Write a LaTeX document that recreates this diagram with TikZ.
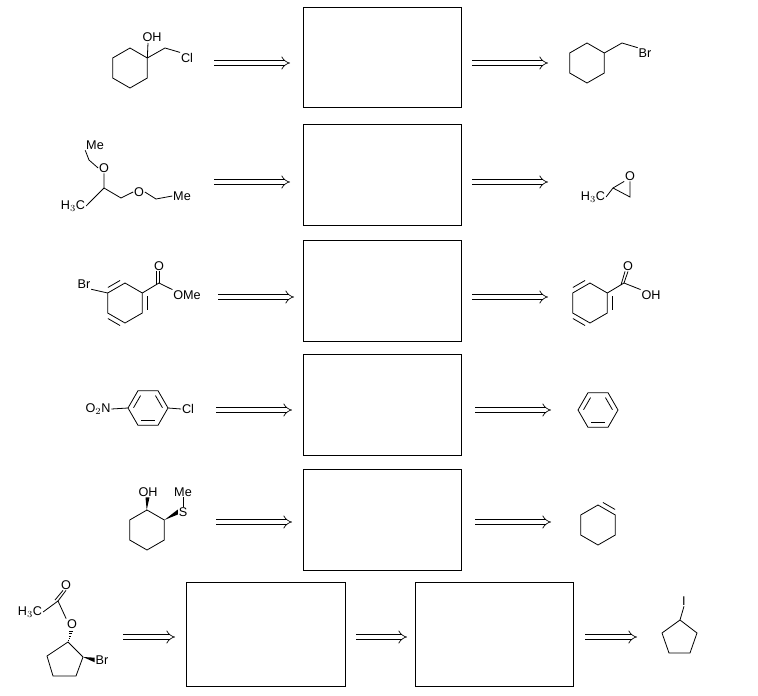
\documentclass[tikz,border=0pt]{standalone}
\usepackage{fontspec}
\setmainfont{Liberation Sans}
\usetikzlibrary{arrows.meta}
\tikzset{
 bd/.style={line width=0.6pt},
 box/.style={draw,line width=0.8pt},
 retro/.style={double,double distance=3pt,line width=0.5pt,-{Implies},shorten >=0pt},
 lab/.style={inner sep=0.5pt,font=\fontsize{9.5}{10}\selectfont},
 wedge/.style={fill=black},
}
\newcommand{\hexp}[3]{% pointy top ring: center x,y, name prefix
 \foreach \k/\a in {1/90,2/30,3/-30,4/-90,5/-150,6/150}{\coordinate (#3\k) at ($(#1,#2)+(\a:20 and -20)$);}
 \draw[bd] (#31)--(#32)--(#33)--(#34)--(#35)--(#36)--cycle;}
\newcommand{\hexf}[3]{% flat top ring
 \foreach \k/\a in {1/0,2/60,3/120,4/180,5/240,6/300}{\coordinate (#3\k) at ($(#1,#2)+(\a:20 and -20)$);}
 \draw[bd] (#31)--(#32)--(#33)--(#34)--(#35)--(#36)--cycle;}
\newcommand{\inb}[3]{\draw[bd] ($(#1)!0.15!(#2)!3.5pt!90:(#2)$) -- ($(#2)!0.15!(#1)!3.5pt!-90:(#1)$);}
\usetikzlibrary{calc}
\begin{document}
\begin{tikzpicture}[x=0.75pt,y=-0.75pt]
\useasboundingbox (0,0) rectangle (758,696);
% boxes
\node[box,minimum width=158*0.75pt,minimum height=100*0.75pt,anchor=north west] (b1) at (303,7) {};
\node[box,minimum width=158*0.75pt,minimum height=101*0.75pt,anchor=north west] (b2) at (303,124) {};
\node[box,minimum width=158*0.75pt,minimum height=101*0.75pt,anchor=north west] (b3) at (303,240) {};
\node[box,minimum width=158*0.75pt,minimum height=101*0.75pt,anchor=north west] (b4) at (303,354) {};
\node[box,minimum width=158*0.75pt,minimum height=101*0.75pt,anchor=north west] (b5) at (303,469) {};
\node[box,minimum width=159*0.75pt,minimum height=104*0.75pt,anchor=north west] (b6) at (186,582) {};
\node[box,minimum width=158*0.75pt,minimum height=104*0.75pt,anchor=north west] (b7) at (415,582) {};
% arrows
\foreach \y in {63,182} {\draw[retro] (214,\y)--(290,\y); \draw[retro] (472,\y)--(548,\y);}
\draw[retro] (218,297)--(294,297); \draw[retro] (472,297)--(548,297);
\foreach \y in {410,522} {\draw[retro] (216,\y)--(292,\y); \draw[retro] (475,\y)--(551,\y);}
\draw[retro] (123,637)--(175,637); \draw[retro] (356,637)--(407,637); \draw[retro] (585,637)--(637,637);
% row 1 left
\hexp{130}{68}{a}
\node[lab] (oh1) at (152,37) {OH};
\node[lab] (cl1) at (187,58) {Cl};
\coordinate (c1) at (165,48);
\draw[bd] (a2)--(148,43); \draw[bd] (a2)--(c1)--(cl1.north west);
% row 1 right
\hexp{587}{63}{b}
\coordinate (c2) at (622,43);
\node[lab] (br1) at (645,53) {Br};
\draw[bd] (b2)--(c2)--(br1.north west);
% row 2 left
\node[lab] (me1) at (95,145) {Me};
\coordinate (m1) at (89,160);
\node[lab] (o1) at (104,168) {O};
\coordinate (m2) at (104,188);
\node[lab] (h3c1) at (73,206) {H$_3$C};
\coordinate (m3) at (121,198);
\node[lab] (o2) at (139,192) {O};
\coordinate (m4) at (156,199);
\node[lab] (me2) at (182,196) {Me};
\draw[bd] (me1.south west)--(m1)--(o1.west);
\draw[bd] (o1.south)--(m2)--(h3c1.east);
\draw[bd] (m2)--(m3)--(o2.west); \draw[bd] (o2.east)--(m4)--(me2.west);
% row 2 right
\node[lab] (h3c2) at (593,197) {H$_3$C};
\coordinate (e1) at (613,188);
\node[lab] (o3) at (630,176) {O};
\coordinate (e2) at (630,197);
\draw[bd] (h3c2.east)--(e1)--(o3.south west); \draw[bd] (e1)--(e2)--(o3.south);
% row 3 left
\hexp{125}{303}{c}
\inb{c2}{c3}{} \inb{c4}{c5}{} \inb{c6}{c1}{}
\node[lab] (br2) at (84,284) {Br};
\draw[bd] (c6)--(br2.south east);
\coordinate (k1) at (159,283);
\node[lab] (o4) at (159,266) {O};
\node[lab] (ome) at (187,295) {OMe};
\draw[bd] (c2)--(k1)--(ome.north west);
\draw[bd] (k1)--(o4.south); \draw[bd] ($(k1)+(-3,2)$)--($(o4.south)+(-3,0)$);
% row 3 right
\hexp{590}{303}{d}
\inb{d2}{d3}{} \inb{d4}{d5}{} \inb{d6}{d1}{}
\coordinate (k2) at (624,283);
\node[lab] (o5) at (628,266) {O};
\node[lab] (oh2) at (651,295) {OH};
\draw[bd] (d2)--(k2)--(oh2.north west);
\draw[bd] (k2)--(o5.south); \draw[bd] ($(k2)+(-3,2)$)--($(o5.south)+(-3,0)$);
% row 4
\hexf{148}{408}{e}
\inb{e1}{e2}{} \inb{e3}{e4}{} \inb{e5}{e6}{}
\node[lab] (no2) at (98,409) {O$_2$N};
\node[lab] (cl2) at (188,409) {Cl};
\draw[bd] (no2.east)--(e4); \draw[bd] (e1)--(cl2.west);
\hexf{598}{410}{f}
\inb{f1}{f2}{} \inb{f3}{f4}{} \inb{f5}{f6}{}
% row 5
\hexp{147}{530}{g}
\node[lab] (oh3) at (148,492) {OH};
\node[lab] (s1) at (183,512) {S};
\node[lab] (me3) at (183,492) {Me};
\fill ($(g1)+(-0.3,0)$) -- ($(oh3.south)+(-2.5,0)$) -- ($(oh3.south)+(1.5,0)$) -- cycle;
\fill (g2) -- ($(s1.west)+(0,-2.5)$) -- ($(s1.west)+(0,2.5)$) -- cycle;
\draw[bd] (s1.north)--(me3.south);
\hexp{598}{525}{h}
\inb{h1}{h2}{}
% row 6 left
\node[lab] (h3c3) at (30,612) {H$_3$C};
\coordinate (k3) at (58,601);
\node[lab] (o6) at (66,585) {O};
\node[lab] (o7) at (72,624) {O};
\draw[bd] (h3c3.east)--(k3)--(o7.north west);
\draw[bd] (k3)--(o6.south); \draw[bd] ($(k3)+(-3,-1)$)--($(o6.south)+(-3,0)$);
\coordinate (p1) at (68,642); \coordinate (p2) at (83,657); \coordinate (p3) at (76,676);
\coordinate (p4) at (53,676); \coordinate (p5) at (47,656);
\draw[bd] (p1)--(p2)--(p3)--(p4)--(p5)--cycle;
\foreach \t in {0.15,0.32,0.49,0.66,0.83}{\draw[line width=0.5pt] ($(p1)!\t!(o7.south)+(-\t*2.2,0)$)--($(p1)!\t!(o7.south)+(\t*2.2,0)$);}
\node[lab] (br3) at (102,660) {Br};
\fill (p2) -- ($(br3.west)+(0,-2.3)$) -- ($(br3.west)+(0,2.3)$) -- cycle;
% row 6 right
\coordinate (q1) at (680,620); \coordinate (q2) at (697,633); \coordinate (q3) at (690,653);
\coordinate (q4) at (669,653); \coordinate (q5) at (662,633);
\draw[bd] (q1)--(q2)--(q3)--(q4)--(q5)--cycle;
\node[lab] (i1) at (684,601) {I};
\draw[bd] (q1)--(i1.south);
\end{tikzpicture}
\end{document}
